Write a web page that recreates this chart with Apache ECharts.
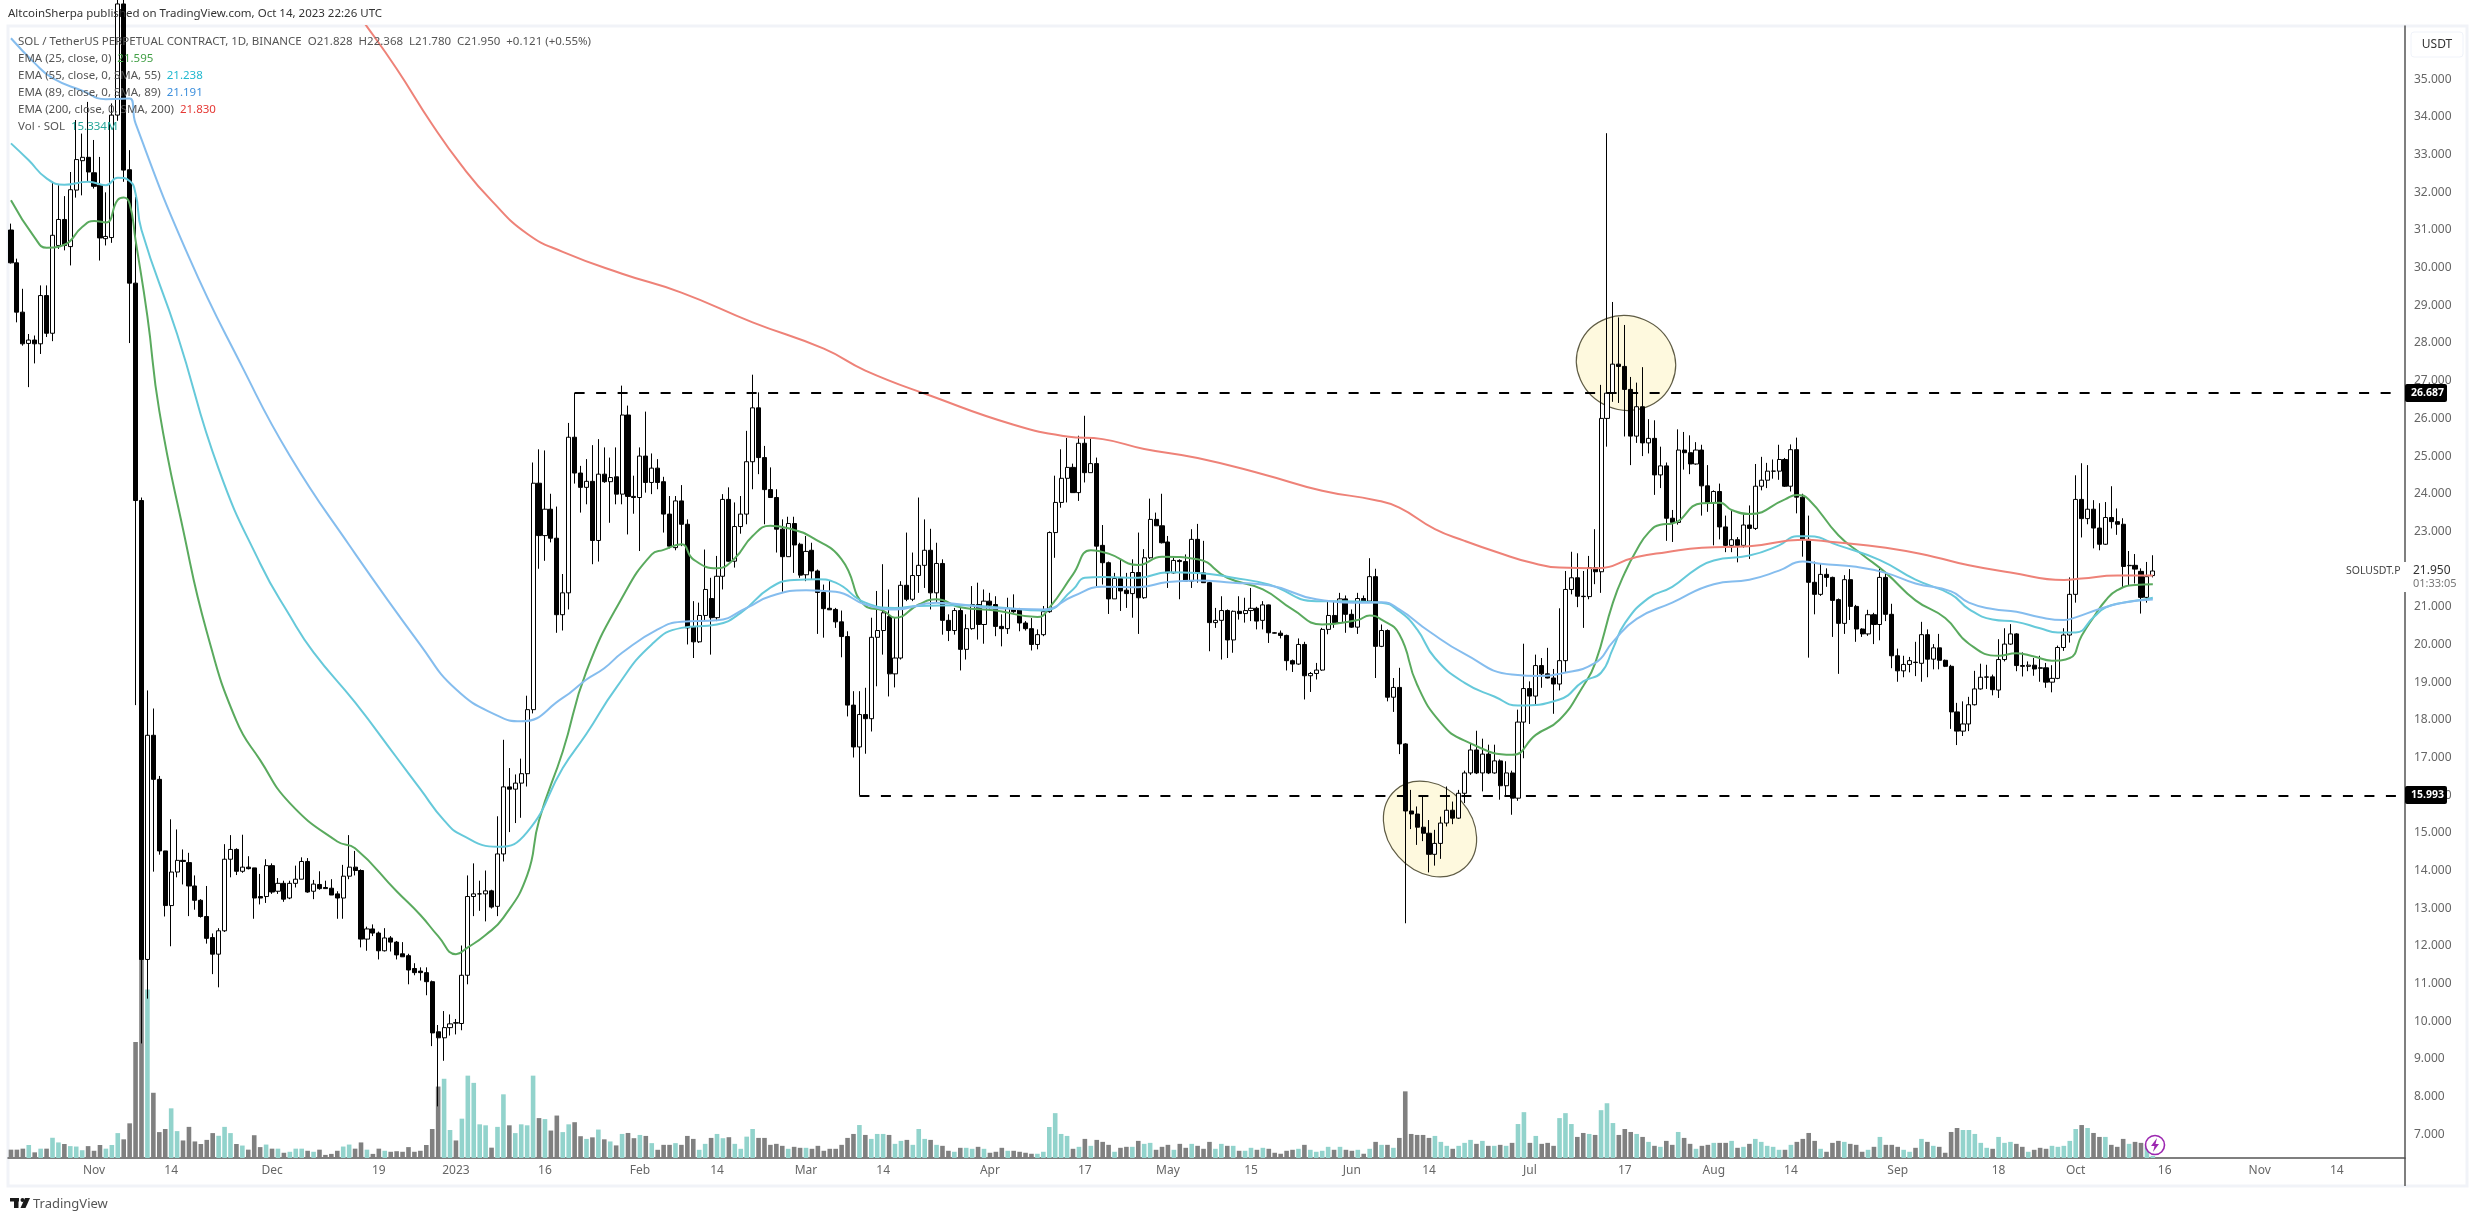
<!DOCTYPE html>
<html><head><meta charset="utf-8">
<style>html,body{margin:0;padding:0;background:#fff}#c{width:2475px;height:1221px}</style>
<script src="https://cdn.jsdelivr.net/npm/echarts@6/dist/echarts.min.js"></script>
</head><body><div id="c"></div>
<script>
const firstDay = Date.UTC(2022, 9, 18);
const axisDays = 404;
const tickLabels = {'2022-11-01':'Nov','2022-11-14':'14','2022-12-01':'Dec','2022-12-19':'19','2023-01-01':'2023','2023-01-16':'16','2023-02-01':'Feb','2023-02-14':'14','2023-03-01':'Mar','2023-03-14':'14','2023-04-01':'Apr','2023-04-17':'17','2023-05-01':'May','2023-05-15':'15','2023-06-01':'Jun','2023-06-14':'14','2023-07-01':'Jul','2023-07-17':'17','2023-08-01':'Aug','2023-08-14':'14','2023-09-01':'Sep','2023-09-18':'18','2023-10-01':'Oct','2023-10-16':'16','2023-11-01':'Nov','2023-11-14':'14'};
const priceTicks = [7,8,9,10,11,12,13,14,15,16,17,18,19,20,21,22,23,24,25,26,27,28,29,30,31,32,33,34,35];
const levelHigh = 26.687, levelLow = 15.993;
// open, high, low, close
const candles = [
[31.0,31.17,30.11,30.13],[30.13,30.24,28.55,28.82],[28.82,29.44,27.93,27.98],[27.99,28.24,26.83,28.08],[28.08,28.2,27.46,27.98],[27.98,29.53,27.71,29.26],[29.26,29.53,28.16,28.26],[28.26,32.28,28.05,30.86],[30.59,32.19,30.5,31.28],[31.28,31.9,30.46,30.59],
[30.56,32.54,30.06,32.07],[32.06,33.92,31.86,32.87],[32.84,33.56,31.92,32.93],[32.93,34.4,32.28,32.54],[32.52,33.39,32.1,32.16],[32.19,32.94,30.19,30.79],[30.77,32,30.59,30.83],[30.8,34.36,30.66,34.05],[34.05,38,33.9,37],[37,38.5,32.28,32.59],
[32.6,33.12,28.0,29.59],[29.59,31.88,18.39,23.82],[23.82,23.9,9.41,11.64],[11.64,18.78,10.6,17.59],[17.59,18.3,13.97,16.42],[16.42,16.51,14.42,14.52],[14.52,14.52,12.78,13.07],[13.07,15.36,11.99,13.96],[13.96,15.09,13.82,14.27],[14.27,14.56,13.63,14.24],
[14.21,14.47,12.79,13.59],[13.59,13.87,12.96,13.21],[13.21,13.24,12.75,12.78],[12.78,13.59,12.06,12.2],[12.22,12.33,11.25,11.78],[11.78,12.47,10.9,12.4],[12.4,14.7,12.37,14.3],[14.3,14.94,13.82,14.56],[14.56,14.59,13.88,13.98],[13.98,14.95,13.94,14.09],
[14.09,14.38,14.03,14.05],[14.07,14.07,12.72,13.27],[13.31,13.91,13.1,13.27],[13.31,14.3,13.14,14.13],[14.13,14.19,13.38,13.43],[13.45,13.8,13.38,13.66],[13.66,13.73,13.17,13.24],[13.27,13.73,13.24,13.66],[13.66,14.13,13.55,13.77],[13.77,14.35,13.77,14.24],
[14.24,14.33,13.41,13.43],[13.45,13.75,13.24,13.64],[13.63,13.98,13.49,13.52],[13.55,13.73,13.52,13.52],[13.53,13.77,13.35,13.35],[13.38,13.45,12.72,13.27],[13.27,14.15,12.72,13.85],[13.85,14.94,13.77,14.09],[14.09,14.52,13.87,14.0],[14.0,14.03,11.96,12.18],
[12.18,12.51,11.87,12.45],[12.45,12.57,12.26,12.34],[12.34,12.38,11.64,11.87],[11.87,12.47,11.85,12.21],[12.21,12.26,11.85,12.1],[12.1,12.13,11.64,11.76],[11.79,12.1,11.71,11.71],[11.74,11.79,10.98,11.36],[11.4,11.54,11.22,11.29],[11.33,11.43,11.08,11.29],
[11.29,11.43,10.69,11.05],[11.05,11.08,9.34,9.69],[9.72,9.9,7.74,9.56],[9.56,10.27,8.95,9.83],[9.83,10.18,9.62,9.93],[9.96,10.06,9.65,9.95],[9.94,12.01,9.76,11.22],[11.22,13.87,10.98,13.31],[13.31,14.19,12.79,13.38],[13.38,13.73,12.93,13.38],
[13.38,14.0,12.65,13.46],[13.46,13.49,12.99,13.03],[13.05,15.44,12.79,14.44],[14.44,17.47,14.24,16.22],[16.22,16.72,15.02,16.16],[16.16,16.55,15.26,16.32],[16.32,16.97,15.4,16.57],[16.57,18.64,16.23,18.27],[18.27,24.83,18.17,24.28],[24.28,25.18,22.01,22.89],
[22.89,25.15,22.22,23.59],[23.59,24,22.71,22.82],[22.82,23.66,20.31,20.79],[20.79,21.87,20.37,21.37],[21.37,25.88,20.93,25.5],[25.5,26.68,24.27,24.55],[24.55,24.74,23.5,24.17],[24.17,24.92,23.72,24.33],[24.33,25.29,22.13,22.76],[22.76,25.45,22.2,24.52],
[24.52,25.23,24.29,24.32],[24.32,24.96,23.23,24.43],[24.45,25.23,23.72,23.99],[23.99,26.87,23.72,26.09],[26.09,26.34,22.92,23.93],[23.93,24.48,23.47,23.9],[23.9,25.23,22.48,25.0],[25.0,26.18,24.03,24.3],[24.3,25.07,23.99,24.68],[24.68,24.92,24.12,24.3],
[24.32,24.45,22.97,23.46],[23.46,23.94,22.55,22.61],[22.57,23.94,22.5,23.81],[23.81,24.23,22.61,23.19],[23.19,23.32,20.0,20.44],[20.46,21.15,19.64,20.07],[20.07,21.11,20.04,20.77],[20.77,22.52,20.62,21.46],[21.22,21.77,19.73,20.71],[20.71,22.35,20.62,21.81],
[21.81,23.99,21.46,23.85],[23.85,24.17,22.2,22.21],[22.21,23.77,22.04,23.13],[23.13,23.94,22.94,23.46],[23.46,25.67,23.19,24.85],[24.85,27.16,24.12,26.28],[26.28,26.69,24.52,24.96],[24.96,25.27,23.19,24.11],[24.11,24.7,23.9,23.9],[23.9,24.12,22.44,23.06],
[23.06,23.32,21.4,22.33],[22.33,23.39,22.33,23.21],[23.21,23.39,21.9,22.64],[22.66,22.7,21.77,21.84],[21.85,22.88,21.68,22.47],[22.5,22.7,21.73,21.95],[21.95,21.99,20.28,21.38],[21.38,21.59,20.18,20.95],[20.96,21.7,20.92,20.92],[20.93,20.97,20.44,20.6],
[20.6,20.9,19.66,20.21],[20.21,20.35,18.09,18.39],[18.39,18.76,17.0,17.28],[17.28,18.76,15.993,18.14],[18.14,18.85,17.1,18.03],[18.03,20.71,17.69,20.19],[20.19,21.42,18.89,20.37],[20.37,22.13,19.73,20.84],[20.74,21.46,18.62,19.22],[19.22,20.71,18.86,19.64],
[19.64,21.68,19.6,21.57],[21.57,22.97,21.15,21.2],[21.2,22.44,21.15,21.83],[21.83,23.9,21.37,22.1],[22.1,23.32,21.5,22.5],[22.5,23.07,20.93,21.37],[21.37,22.7,21.11,22.15],[22.15,22.26,20.26,20.64],[20.64,20.8,20.09,20.37],[20.37,20.97,20.26,20.9],
[20.9,20.97,19.31,19.87],[19.87,20.8,19.6,20.42],[20.42,21.55,20.39,21.06],[21.06,21.64,20.13,20.53],[20.53,21.46,20.02,21.15],[21.15,21.37,20.93,21.04],[21.06,21.28,20.22,20.48],[20.48,20.8,19.95,20.42],[20.42,21.24,20.28,20.96],[20.93,21.33,20.84,20.87],
[20.93,20.97,20.35,20.57],[20.57,20.62,20.37,20.42],[20.42,20.7,19.84,20.0],[20.0,20.4,19.87,20.26],[20.26,21.02,20.22,20.87],[20.87,23,20.84,22.97],[22.97,24.48,22.3,23.77],[23.77,25.18,23.63,24.41],[24.41,25.48,23.77,24.7],[24.7,24.8,24.03,24.03],
[24.03,25.54,23.81,25.34],[25.34,26.07,24.3,24.56],[24.56,25.48,24.56,24.8],[24.8,24.96,21.5,22.61],[22.63,23.17,21.59,22.17],[22.17,22.2,20.81,21.21],[21.21,21.9,21.21,21.75],[21.75,22.26,20.89,21.42],[21.44,21.9,20.97,21.35],[21.35,22.26,20.71,21.91],
[21.91,22.97,20.28,21.24],[21.24,22.53,21.21,22.3],[22.3,23.87,22.27,23.32],[23.32,23.5,23.15,23.15],[23.15,24.0,22.68,22.7],[22.72,22.88,21.5,21.9],[21.9,22.3,21.88,22.23],[22.23,22.26,21.2,22.2],[22.2,22.39,21.68,21.68],[21.68,23.06,21.5,22.79],
[22.79,23.2,21.64,21.9],[21.9,22.75,21.64,21.64],[21.64,21.66,19.82,20.58],[20.58,20.97,20.44,20.64],[20.64,21.28,19.6,20.9],[20.9,20.93,19.64,20.12],[20.12,20.9,19.78,20.88],[20.88,21.28,20.66,20.82],[20.82,21.24,20.58,20.9],[20.9,21.5,20.62,20.96],
[20.96,21.0,20.4,20.62],[20.64,21.15,20.4,21.05],[21.05,21.06,20.04,20.31],[20.31,20.33,20.29,20.3],[20.3,20.37,20.16,20.24],[20.24,20.26,19.31,19.57],[19.57,19.6,19.27,19.48],[19.48,20.16,19.46,20.0],[20.0,20.07,18.54,19.17],[19.17,19.27,18.74,19.23],
[19.23,19.51,19.07,19.32],[19.32,20.44,19.3,20.4],[20.4,21.15,20.27,20.77],[20.77,21.13,20.44,20.58],[20.58,21.37,20.56,21.21],[21.21,21.3,20.31,20.8],[20.8,20.93,20.44,20.46],[20.46,21.37,20.28,21.22],[21.22,21.3,21.15,21.15],[21.15,22.29,21.13,21.8],
[21.8,22.01,19.11,19.95],[19.95,20.53,19.93,20.37],[20.37,20.4,18.49,18.6],[18.6,19.11,18.21,18.86],[18.86,19.38,17.09,17.36],[17.36,17.38,12.6,15.58],[15.58,16.14,15.1,15.5],[15.5,15.7,14.68,15.15],[15.15,15.98,14.78,14.99],[14.99,15.34,13.95,14.43],
[14.43,15.08,14.13,14.72],[14.72,15.43,14.31,15.26],[15.26,16.23,15.17,15.6],[15.6,15.83,15.23,15.39],[15.39,16.14,15.37,16.05],[16.05,16.65,15.79,16.59],[16.59,17.38,16.54,17.2],[17.2,17.71,16.56,16.59],[16.59,17.5,16.1,17.09],[17.09,17.34,16.56,16.59],
[16.59,17.34,16.57,16.91],[16.91,16.95,15.88,16.25],[16.25,16.9,16.0,16.59],[16.59,16.65,15.48,15.92],[15.92,18.27,15.85,17.94],[17.94,20.02,16.98,18.83],[18.83,19.02,17.89,18.63],[18.63,19.73,18.42,19.44],[19.44,19.64,18.85,19.22],[19.22,19.91,19.1,19.11],
[19.11,19.35,18.16,18.95],[18.95,20.96,18.78,19.57],[19.57,21.95,19.25,21.46],[21.46,22.46,21.33,21.77],[21.77,22.42,20.99,21.28],[21.28,21.95,20.44,21.27],[21.27,22.35,21.2,22.04],[22.04,23.06,21.6,21.93],[21.93,26.89,21.37,26.0],[26.0,33.57,25.25,26.67],
[26.67,29.09,26.44,27.44],[27.44,28.68,26.41,27.38],[27.38,28.48,25.52,26.77],[26.77,27.1,24.76,25.53],[25.53,26.95,25.35,26.31],[26.31,27.36,25.0,25.35],[25.35,25.98,25.07,25.47],[25.47,25.95,23.97,24.5],[24.5,25.25,24.15,24.74],[24.74,24.83,22.75,23.35],
[23.35,23.57,22.72,23.24],[23.24,25.71,23.18,25.16],[25.16,25.64,24.64,25.09],[25.09,25.55,24.52,24.79],[24.79,25.37,24.77,25.16],[25.16,25.3,23.42,24.21],[24.21,24.76,23.52,23.76],[23.76,24.09,22.63,24.06],[24.06,24.27,22.79,23.12],[23.12,23.42,22.45,22.63],
[22.63,23.54,22.45,22.78],[22.78,22.85,22.18,22.63],[22.63,23.45,22.57,23.17],[23.17,23.69,22.27,23.08],[23.08,24.79,23.04,24.2],[24.2,24.98,24.09,24.36],[24.36,24.82,24.15,24.6],[24.6,24.91,24.4,24.6],[24.6,25.3,24.37,24.91],[24.91,24.95,24.18,24.2],
[24.2,25.31,24.06,25.17],[25.17,25.49,23.48,23.91],[23.91,24.0,22.33,22.79],[22.79,23.42,19.65,21.65],[21.65,22.2,20.8,21.33],[21.33,22.14,21.29,21.86],[21.86,22.02,21.53,21.78],[21.78,21.8,20.2,21.17],[21.19,21.22,19.22,20.56],[20.56,21.84,20.28,21.72],
[21.72,22,20.65,21.01],[21.01,21.05,20.07,20.41],[20.41,20.43,20.2,20.28],[20.28,20.92,20.23,20.79],[20.79,20.84,20.01,20.53],[20.53,22.02,20.11,21.78],[21.78,21.9,20.62,20.8],[20.8,21.08,19.37,19.7],[19.7,19.89,19.01,19.3],[19.3,19.7,19.13,19.47],
[19.47,19.67,19.26,19.57],[19.53,20.07,19.16,19.52],[19.5,20.6,19.01,20.26],[20.26,20.4,19.13,19.61],[19.61,20.01,19.34,19.91],[19.91,20.28,19.34,19.58],[19.58,19.6,19.4,19.42],[19.42,19.46,17.76,18.21],[18.21,18.45,17.33,17.7],[17.7,18.49,17.57,17.89],
[17.89,18.61,17.7,18.4],[18.4,19.3,18.38,18.82],[18.82,19.49,18.8,19.13],[19.13,19.46,18.82,19.14],[19.14,19.2,18.65,18.8],[18.79,20.14,18.58,19.6],[19.6,20.43,19.55,20.01],[20.01,20.54,19.99,20.28],[20.28,20.3,19.29,19.44],[19.44,19.79,19.15,19.42],
[19.42,19.55,19.29,19.45],[19.45,19.64,19.17,19.35],[19.38,19.7,19.01,19.37],[19.38,19.51,18.85,19.0],[19.0,19.45,18.73,19.1],[19.1,19.97,19.08,19.92],[19.92,20.43,19.83,20.25],[20.25,21.78,20.05,21.33],[21.33,24.49,21.11,23.85],[23.85,24.81,22.84,23.34],
[23.34,24.76,23.19,23.59],[23.59,23.83,22.55,23.09],[23.09,23.75,22.5,22.66],[22.66,23.78,22.64,23.37],[23.37,24.2,23.08,23.26],[23.26,23.61,22.91,23.19],[23.19,23.35,21.51,22.07],[22.09,22.48,21.56,22.1],[22.1,22.4,21.62,22.0],[21.94,22.02,20.82,21.25],
[21.25,22.19,21.11,21.80],[21.828,22.368,21.78,21.95]
];
const volume = [
59,59,66,92,40,66,66,143,110,99,84,81,55,84,51,92,66,92,176,132,245,820,1409,1190,461,183,205,351,190,124,
220,117,99,128,176,157,220,176,99,88,59,161,77,95,66,66,37,44,66,66,51,44,59,22,29,51,81,95,66,110,
59,29,66,51,44,48,44,77,44,51,92,205,505,560,198,124,278,582,531,238,231,73,220,450,231,176,238,231,582,282,
275,194,300,183,238,253,154,135,146,201,132,117,
89,170,177,140,163,156,105,58,93,93,105,93,156,135,58,100,142,170,140,147,100,65,151,205,142,142,93,100,86,65,79,72,72,65,86,51,65,65,93,142,170,233,163,135,170,170,163,100,121,128,93,205,135,128,93,86,51,44,72,72,65,79,65,37,44,72,51,51,44,37,30,30,44,219,317,170,156,65,79,135,86,128,114,93,44,72,79,79,121,100,107,58,79,93,58,100,72,100,86,65,114,65,100,86,86,51,
51,72,58,72,65,37,30,51,58,65,93,58,44,51,79,58,79,58,51,58,30,65,114,93,93,72,142,471,170,163,163,142,156,114,86,65,86,107,128,100,121,86,86,93,86,107,240,324,107,156,100,107,86,282,317,240,149,177,170,163,338,387,247,163,205,184,170,149,114,86,79,121,93,184,142,100,65,86,93,107,107,107,121,72,79,100,135,114,86,79,58,58,93,114,135,177,121,65,44,107,121,114,100,93,44,58,79,149,93,93,79,58,44,72,135,114,86,79,37,184,212,198,198,170,107,72,65,149,107,114,100,79,44,58,72,65,86,79,86,121,205,233,212,177,149,149,93,79,135,100,114,107,82,15.334
];
const ema25 = [[0,31.79],[4,30.8],[6,30.53],[9,30.61],[12,31.08],[14,31.24],[16,31.2],[18,31.8],[19,31.86],[20,31.7],[21,30.73],[23,28.7],[25,26.2],[29,23.06],[33,20.34],[38,17.97],[42,16.93],[47,15.79],[55,14.77],[58,14.59],[65,13.45],[69,12.82],[72,12.26],[75,11.78],[77,11.96],[80,12.29],[83,12.75],[87,13.87],[89,15.33],[93,17.16],[97,19.29],[103,21.24],[108,22.39],[110,22.51],[113,22.66],[115,22.26],[119,22.02],[122,22.29],[125,22.88],[128,23.15],[132,23.04],[135,22.84],[140,22.26],[144,21.02],[147,20.9],[149,20.71],[153,21.06],[156,21.2],[160,20.99],[166,20.9],[173,20.73],[175,20.97],[179,21.86],[182,22.5],[185,22.41],[190,22.11],[194,22.33],[200,22.26],[205,21.77],[211,21.46],[216,20.93],[221,20.53],[227,20.65],[229,20.77],[231,20.66],[234,20.27],[237,18.93],[241,17.92],[245,17.45],[253,17.07],[257,17.6],[261,18.0],[265,18.9],[267,19.5],[270,21.11],[272,21.9],[274,22.51],[276,22.97],[278,23.18],[280,23.21],[285,23.75],[288,23.76],[290,23.57],[293,23.46],[299,23.85],[301,23.97],[303,23.85],[308,22.9],[312,22.39],[316,21.9],[321,21.17],[326,20.7],[330,20.02],[335,19.7],[338,19.77],[341,19.68],[344,19.57],[347,19.64],[349,20.23],[351,20.72],[353,21.16],[355,21.44],[358,21.58],[361,21.595]];
const ema55 = [[0,33.3],[3,32.85],[6,32.37],[9,32.2],[13,32.28],[16,32.19],[18,32.39],[20,32.3],[21,31.97],[22,31.0],[28,28.24],[35,24.66],[42,22.15],[47,20.76],[51,19.79],[58,18.46],[65,17],[69,16.16],[73,15.33],[76,14.94],[82,14.63],[87,15.02],[93,16.72],[97,17.63],[102,18.85],[108,20],[113,20.44],[119,20.53],[123,20.84],[128,21.51],[132,21.71],[136,21.73],[139,21.64],[144,21.11],[149,20.97],[153,21.02],[160,21.04],[166,20.99],[174,20.9],[179,21.46],[181,21.77],[184,21.79],[190,21.77],[195,21.92],[200,21.9],[206,21.77],[212,21.59],[220,21.15],[225,21.15],[231,21.11],[234,20.88],[237,20.4],[240,19.64],[245,18.98],[250,18.62],[254,18.38],[261,18.54],[265,19.02],[268,19.25],[270,19.89],[272,20.56],[276,21.23],[280,21.53],[284,22],[287,22.23],[293,22.36],[298,22.63],[301,22.87],[303,22.87],[308,22.63],[315,22.24],[321,21.72],[327,21.33],[330,20.94],[334,20.66],[338,20.6],[342,20.43],[345,20.32],[348,20.32],[351,20.72],[353,20.98],[356,21.11],[359,21.18],[361,21.238]];
const ema89 = [[0,36.09],[4,35.43],[7,35.03],[12,34.7],[16,34.47],[20,34.49],[21,33.83],[30,30.28],[39,27.36],[47,25.01],[57,22.64],[69,19.99],[75,18.81],[82,18.11],[86,17.96],[93,18.58],[97,19.07],[100,19.37],[103,19.78],[109,20.4],[113,20.6],[119,20.64],[124,20.97],[128,21.28],[134,21.44],[139,21.4],[144,21.06],[149,20.93],[156,21.11],[166,20.96],[174,20.93],[179,21.28],[184,21.53],[190,21.52],[195,21.66],[200,21.7],[206,21.64],[212,21.57],[220,21.2],[228,21.11],[231,21.12],[234,20.93],[239,20.35],[245,19.75],[253,19.2],[258,19.16],[261,19.22],[267,19.51],[270,20.07],[274,20.68],[280,21.11],[287,21.6],[293,21.72],[298,21.96],[302,22.2],[305,22.14],[311,22.06],[316,21.9],[321,21.62],[327,21.41],[330,21.11],[334,20.94],[338,20.87],[342,20.72],[346,20.65],[348,20.72],[352,20.94],[356,21.11],[361,21.191]];
const ema200 = [[58,36.8],[60,36.4],[65,35.28],[71,33.8],[76,32.7],[81,31.78],[87,30.9],[93,30.42],[103,29.84],[113,29.34],[125,28.55],[137,27.85],[144,27.27],[155,26.6],[169,25.83],[178,25.52],[184,25.45],[191,25.19],[200,24.95],[211,24.52],[221,24.08],[230,23.83],[234,23.63],[240,23.06],[245,22.75],[251,22.42],[256,22.18],[261,22.04],[267,22.02],[274,22.32],[279,22.45],[285,22.57],[293,22.61],[302,22.78],[307,22.72],[316,22.57],[324,22.33],[330,22.1],[337,21.91],[346,21.71],[349,21.75],[355,21.83],[361,21.83]];

const categories = [];
for (let i = 0; i < axisDays; i++) categories.push(new Date(firstDay + i * 864e5).toISOString().slice(0, 10));
const FONT = '"Noto Sans", sans-serif';
const chart = echarts.init(document.getElementById('c'), null, {renderer:'canvas'});
const emaLine = (name, data, color) => ({name, type:'line', data, xAxisIndex:0, yAxisIndex:0, showSymbol:false, smooth:0.5, z:4, silent:true, lineStyle:{color, width:2}, itemStyle:{color}});
const legendRow = (y, rich, text) => ({type:'text', x:18, y, z:100, silent:true, style:{text, fill:'#555', font:'11.5px '+FONT, textVerticalAlign:'middle', rich}});
const val = (c) => ({fill:c, font:'11.5px '+FONT});
chart.setOption({
  animation:false, backgroundColor:'#fff',
  grid:{left:8, right:70, top:26, bottom:63, containLabel:false},
  xAxis:{type:'category', data:categories, boundaryGap:true,
    axisLine:{lineStyle:{color:'#555', width:1.5}}, axisTick:{show:false}, splitLine:{show:false},
    axisLabel:{color:'#666', fontFamily:FONT, fontSize:12, margin:7, showMinLabel:true, showMaxLabel:true, hideOverlap:false,
      interval:(i, v) => v in tickLabels, formatter:(v) => tickLabels[v] || ''}},
  yAxis:[
    {type:'value', position:'right', min:6.37, max:36.415, scale:true, splitLine:{show:false}, axisTick:{show:false},
     axisLine:{show:true, lineStyle:{color:'#555', width:1.5}},
     axisLabel:{customValues:priceTicks, color:'#666', fontFamily:FONT, fontSize:12, margin:9, formatter:(v) => v.toFixed(3)}},
    {type:'value', min:0, max:8000, show:false, splitLine:{show:false}}
  ],
  series:[
    {name:'Vol', type:'bar', xAxisIndex:0, yAxisIndex:1, barWidth:4.6, z:1, silent:true,
     data:volume.map((v, i) => ({value:v, itemStyle:{color:candles[i][3] >= candles[i][0] ? '#92d3cc' : '#808080'}}))},
    {name:'SOL', type:'candlestick', xAxisIndex:0, yAxisIndex:0, barWidth:4.6, z:3, silent:true, clip:true,
     data:candles.map(r => [r[0], r[3], r[2], r[1]]),
     itemStyle:{color:'#fff', color0:'#000', borderColor:'#000', borderColor0:'#000', borderWidth:1},
     markLine:{silent:true, symbol:'none', label:{show:false}, animation:false, z:5,
       lineStyle:{color:'#000', width:2, type:[10,11.5]},
       data:[[{coord:[categories[95], levelHigh]},{coord:[categories[403], levelHigh]}],
             [{coord:[categories[143], levelLow]},{coord:[categories[403], levelLow]}]]}},
    emaLine('EMA 25', ema25, '#5aaa5e'),
    emaLine('EMA 55', ema55, '#66c9da'),
    emaLine('EMA 89', ema89, '#85bdee'),
    emaLine('EMA 200', ema200, '#ee8278')
  ],
  graphic:[
    {type:'rect', z:0, silent:true, shape:{x:8,y:26,width:2459,height:1160}, style:{fill:'none', stroke:'#f1f3f8', lineWidth:3}},
    {type:'line', z:6, silent:true, shape:{x1:2405,y1:1158,x2:2405,y2:1186}, style:{stroke:'#555', lineWidth:1.5}},
    {type:'ellipse', z:1, silent:true, x:1430, y:829, originX:0, originY:0, rotation:-0.85, shape:{cx:0,cy:0,rx:52,ry:42}, style:{fill:'rgba(254,249,220,0.95)', stroke:'#5f5c45', lineWidth:1.2}},
    {type:'ellipse', z:1, silent:true, x:1626, y:363, originX:0, originY:0, rotation:-0.4, shape:{cx:0,cy:0,rx:50,ry:47}, style:{fill:'rgba(254,249,220,0.95)', stroke:'#5f5c45', lineWidth:1.2}},
    {type:'text', z:100, silent:true, x:8, y:14, style:{text:'AltcoinSherpa published on TradingView.com, Oct 14, 2023 22:26 UTC', fill:'#333', font:'11.5px '+FONT, textVerticalAlign:'middle'}},
    legendRow(42, {v:val('#555')}, 'SOL / TetherUS PERPETUAL CONTRACT, 1D, BINANCE  O21.828  H22.368  L21.780  C21.950  +0.121 (+0.55%)'),
    legendRow(59, {v:val('#43a047')}, 'EMA (25, close, 0)  {v|21.595}'),
    legendRow(76, {v:val('#22b8cf')}, 'EMA (55, close, 0, SMA, 55)  {v|21.238}'),
    legendRow(93, {v:val('#3d8fdc')}, 'EMA (89, close, 0, SMA, 89)  {v|21.191}'),
    legendRow(110, {v:val('#e53935')}, 'EMA (200, close, 0, SMA, 200)  {v|21.830}'),
    legendRow(127, {v:val('#26a69a')}, 'Vol · SOL  {v|15.334M}'),
    {type:'rect', z:90, silent:true, shape:{x:2411,y:32,width:52,height:25,r:3}, style:{fill:'#fff', stroke:'#f0f3fa', lineWidth:1}},
    {type:'text', z:100, silent:true, x:2437, y:44.5, style:{text:'USDT', fill:'#333', font:'12px '+FONT, textAlign:'center', textVerticalAlign:'middle'}},
    {type:'rect', z:90, silent:true, shape:{x:2405,y:384,width:42,height:18,r:2}, style:{fill:'#000'}},
    {type:'text', z:100, silent:true, x:2411, y:393, style:{text:'26.687', fill:'#fff', font:'bold 10.5px '+FONT, textVerticalAlign:'middle'}},
    {type:'rect', z:90, silent:true, shape:{x:2405,y:786,width:42,height:18,r:2}, style:{fill:'#000'}},
    {type:'text', z:100, silent:true, x:2411, y:795, style:{text:'15.993', fill:'#fff', font:'bold 10.5px '+FONT, textVerticalAlign:'middle'}},
    {type:'rect', z:90, silent:true, shape:{x:2340,y:562,width:120,height:30}, style:{fill:'#fff'}},
    {type:'text', z:100, silent:true, x:2346, y:571, style:{text:'SOLUSDT.P', fill:'#444', font:'10.5px '+FONT, textVerticalAlign:'middle'}},
    {type:'text', z:100, silent:true, x:2413, y:571, style:{text:'21.950', fill:'#333', font:'12px '+FONT, textVerticalAlign:'middle'}},
    {type:'text', z:100, silent:true, x:2413, y:584, style:{text:'01:33:05', fill:'#777', font:'11px '+FONT, textVerticalAlign:'middle'}},
    {type:'circle', z:100, silent:true, shape:{cx:2155,cy:1145,r:9.5}, style:{fill:'#fff', stroke:'#9c27b0', lineWidth:1.6}},
    {type:'polygon', z:101, silent:true, shape:{points:[[2157,1138],[2151,1146],[2154.5,1146],[2153,1152],[2159,1144],[2155.5,1144]]}, style:{fill:'#9c27b0'}},
    {type:'rect', z:100, silent:true, shape:{x:10,y:1198,width:9,height:3.5}, style:{fill:'#1a1a1a'}},
    {type:'rect', z:100, silent:true, shape:{x:14,y:1198,width:4.5,height:10}, style:{fill:'#1a1a1a'}},
    {type:'circle', z:100, silent:true, shape:{cx:22.5,cy:1200,r:2}, style:{fill:'#1a1a1a'}},
    {type:'polygon', z:100, silent:true, shape:{points:[[25,1198],[30,1198],[25.5,1208],[20.5,1208]]}, style:{fill:'#1a1a1a'}},
    {type:'text', z:100, silent:true, x:33, y:1204, style:{text:'TradingView', fill:'#555', font:'13px '+FONT, textVerticalAlign:'middle'}}
  ]
});
</script></body></html>
